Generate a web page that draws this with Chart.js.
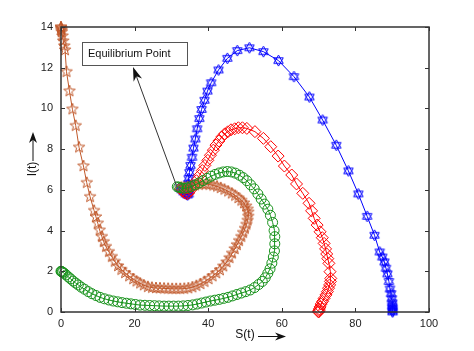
<!DOCTYPE html>
<html>
<head>
<meta charset="utf-8">
<script src="https://cdn.jsdelivr.net/npm/chart.js@4.4.1/dist/chart.umd.min.js"></script>
<style>
  html, body { margin: 0; padding: 0; background: #fff; }
  #wrap { width: 474px; height: 351px; }
</style>
</head>
<body>
<div id="wrap"><canvas id="phase"></canvas></div>
<script>
// Phase trajectories S(t) vs I(t)
const blueS = [90.1,90.1,90.1,90.1,90.0,90.0,89.9,89.7,89.4,89.1,
  88.7,88.3,87.9,87.3,86.6,85.2,83.2,80.8,78.1,74.8,
  71.1,67.5,63.3,59.1,55.0,51.2,47.9,45.2,42.8,40.8,
  39.8,39.0,38.2,37.6,37.0,36.5,36.0,35.6,35.2,34.9,
  34.7,34.6,34.6,34.7,34.7,34.4,33.9,33.3,32.8,32.4];
const blueI = [0.0,0.05,0.12,0.2,0.3,0.45,0.65,0.9,1.13,1.5,
  1.87,2.15,2.46,2.7,2.95,3.77,4.7,5.8,6.93,8.19,
  9.43,10.56,11.56,12.35,12.79,12.98,12.84,12.46,11.89,11.26,
  10.85,10.4,9.95,9.5,9.0,8.5,8.05,7.6,7.2,6.85,
  6.55,6.3,6.1,5.95,5.8,5.75,5.8,5.9,6.0,6.1];

const redS = [70.0,70.0,70.1,70.2,70.4,70.7,71.1,71.5,72.0,72.4,
  72.7,73.0,73.2,73.3,73.1,72.8,72.5,72.2,71.9,71.5,
  71.0,70.4,69.6,68.8,68.1,67.4,65.7,64.0,62.7,60.7,
  59.0,57.0,55.0,52.7,50.5,49.3,48.2,47.2,46.2,45.3,
  44.5,43.7,42.9,42.1,41.4,40.6,39.9,39.1,38.4,37.6,
  36.8,36.0,35.3,34.7,34.2,33.6,33.0,32.5];
const redI = [0.0,0.03,0.08,0.15,0.25,0.39,0.52,0.67,0.84,1.0,
  1.17,1.33,1.5,1.65,1.98,2.39,2.62,2.85,3.1,3.37,
  3.65,3.94,4.27,4.6,4.97,5.34,5.83,6.29,6.73,7.17,
  7.66,8.12,8.53,8.86,9.02,9.05,9.05,9.0,8.95,8.85,
  8.75,8.6,8.4,8.2,7.95,7.7,7.45,7.2,6.95,6.7,
  6.45,6.2,6.0,5.85,5.8,5.85,5.95,6.05];

const greenS = [0.0,0.1,0.3,0.5,0.9,1.4,2.0,2.6,3.3,4.0,
  4.7,5.5,6.4,7.4,8.4,9.5,10.6,11.8,13.0,14.2,
  15.4,16.6,17.8,19.0,20.2,21.5,22.8,24.1,25.4,26.7,
  28.0,29.3,30.6,31.9,33.2,34.5,35.8,37.0,38.2,39.4,
  40.6,41.8,43.0,44.2,45.4,46.6,47.8,49.0,50.2,51.4,
  52.6,53.7,54.7,55.5,56.2,56.8,57.3,57.7,58.0,58.1,
  58.1,57.9,57.5,56.9,56.2,55.3,54.4,53.5,52.5,51.5,
  50.5,49.5,48.5,47.4,46.3,45.2,44.1,43.0,41.9,40.8,
  39.7,38.6,37.5,36.4,35.3,34.3,33.4,32.6,32.0,31.6];
const greenI = [2.0,1.99,1.97,1.95,1.9,1.82,1.72,1.63,1.52,1.42,
  1.33,1.22,1.12,1.0,0.9,0.81,0.72,0.65,0.59,0.54,
  0.5,0.46,0.43,0.4,0.37,0.34,0.33,0.32,0.31,0.3,
  0.29,0.29,0.29,0.29,0.3,0.32,0.35,0.39,0.44,0.49,
  0.54,0.58,0.62,0.67,0.72,0.79,0.86,0.93,1.0,1.08,
  1.2,1.35,1.5,1.68,1.9,2.12,2.4,2.7,3.0,3.35,
  3.7,4.0,4.4,4.75,5.05,5.3,5.55,5.8,6.05,6.25,
  6.45,6.6,6.72,6.82,6.88,6.9,6.88,6.83,6.76,6.67,
  6.56,6.45,6.34,6.24,6.16,6.1,6.08,6.1,6.13,6.15];

const brownS = [0.0,0.0,0.05,0.1,0.15,0.2,0.4,0.6,0.9,1.1,
  1.5,2.3,3.1,4.0,4.9,6.1,7.0,7.9,9.0,9.5,
  10.0,10.5,11.1,11.6,12.2,13.0,13.8,14.6,15.5,16.4,
  17.4,18.5,19.6,20.5,21.5,22.5,23.6,24.7,25.8,26.9,
  28.0,29.1,30.2,31.3,32.4,33.5,34.6,35.7,36.8,37.9,
  39.0,40.1,41.2,42.2,43.2,44.1,45.0,45.8,46.5,47.2,
  47.8,48.4,49.0,49.5,50.0,50.4,50.7,50.9,50.9,50.7,
  50.3,49.7,49.0,48.2,47.3,46.4,45.4,44.4,43.4,42.4,
  41.4,40.4,39.4,38.4,37.4,36.4,35.4,34.4,33.5,32.7];
const brownI = [14.0,13.97,13.93,13.88,13.82,13.75,13.56,13.31,13.07,12.87,
  11.8,10.85,9.96,9.15,8.09,7.17,6.35,5.66,4.98,4.67,
  4.36,4.02,3.7,3.45,3.21,2.96,2.72,2.48,2.26,2.08,
  1.92,1.76,1.62,1.51,1.41,1.32,1.24,1.2,1.18,1.17,
  1.16,1.15,1.14,1.14,1.14,1.15,1.17,1.22,1.29,1.38,
  1.49,1.62,1.76,1.91,2.06,2.25,2.45,2.66,2.88,3.1,
  3.3,3.5,3.7,3.9,4.1,4.3,4.5,4.7,4.9,5.05,
  5.2,5.35,5.48,5.6,5.72,5.83,5.93,6.02,6.1,6.17,
  6.22,6.26,6.28,6.28,6.26,6.23,6.19,6.15,6.12,6.12];

const xTicks = [0, 20, 40, 60, 80, 100];
const yTicks = [0, 2, 4, 6, 8, 10, 12, 14];

const BLUE = '#0000ff', RED = '#ff0000', GREEN = '#16911a', BROWN = '#c0582a';
const FONT = 'Liberation Sans, Arial, Helvetica, sans-serif';

const pts = (xs, ys) => xs.map((x, i) => ({ x, y: ys[i] }));

// MATLAB-like open star markers drawn on small canvases
function starMarker(n, rOut, rIn, color) {
  const size = Math.ceil(rOut * 2 + 4);
  const c = document.createElement('canvas');
  c.width = c.height = size;
  const g = c.getContext('2d');
  g.translate(size / 2, size / 2);
  g.beginPath();
  for (let k = 0; k < n * 2; k++) {
    const r = k % 2 ? rIn : rOut;
    const a = -Math.PI / 2 + k * Math.PI / n;
    g.lineTo(r * Math.cos(a), r * Math.sin(a));
  }
  g.closePath();
  g.strokeStyle = color;
  g.lineWidth = 1;
  g.stroke();
  return c;
}

function hexagramMarker(r, color) {
  const size = Math.ceil(r * 2 + 4);
  const c = document.createElement('canvas');
  c.width = c.height = size;
  const g = c.getContext('2d');
  g.translate(size / 2, size / 2);
  g.strokeStyle = color;
  g.lineWidth = 1;
  [-Math.PI / 2, Math.PI / 2].forEach(a0 => {
    g.beginPath();
    for (let k = 0; k < 3; k++) {
      const a = a0 + k * 2 * Math.PI / 3;
      g.lineTo(r * Math.cos(a), r * Math.sin(a));
    }
    g.closePath();
    g.stroke();
  });
  return c;
}

function arrow(ctx, x1, y1, x2, y2, len, half) {
  const a = Math.atan2(y2 - y1, x2 - x1);
  ctx.beginPath();
  ctx.moveTo(x1, y1);
  ctx.lineTo(x2 - Math.cos(a) * len * 0.7, y2 - Math.sin(a) * len * 0.7);
  ctx.stroke();
  ctx.beginPath();
  ctx.moveTo(x2, y2);
  ctx.lineTo(x2 - len * Math.cos(a) + half * Math.sin(a), y2 - len * Math.sin(a) - half * Math.cos(a));
  ctx.lineTo(x2 - len * 0.7 * Math.cos(a), y2 - len * 0.7 * Math.sin(a));
  ctx.lineTo(x2 - len * Math.cos(a) - half * Math.sin(a), y2 - len * Math.sin(a) + half * Math.cos(a));
  ctx.closePath();
  ctx.fill();
}

// box, inward ticks, axis labels and the annotation
const decorations = {
  id: 'decorations',
  afterDraw(chart) {
    const { ctx, chartArea: a, scales: { x, y } } = chart;
    ctx.save();
    ctx.strokeStyle = '#333';
    ctx.lineWidth = 1.5;
    ctx.strokeRect(a.left, a.top, a.right - a.left, a.bottom - a.top);
    ctx.lineWidth = 1;
    ctx.beginPath();
    xTicks.forEach(v => {
      const px = Math.round(x.getPixelForValue(v)) + 0.5;
      ctx.moveTo(px, a.bottom); ctx.lineTo(px, a.bottom - 4);
      ctx.moveTo(px, a.top); ctx.lineTo(px, a.top + 4);
    });
    yTicks.forEach(v => {
      const py = Math.round(y.getPixelForValue(v)) + 0.5;
      ctx.moveTo(a.left, py); ctx.lineTo(a.left + 4, py);
      ctx.moveTo(a.right, py); ctx.lineTo(a.right - 4, py);
    });
    ctx.stroke();

    // axis labels with arrows
    ctx.fillStyle = '#111';
    ctx.strokeStyle = '#111';
    ctx.font = '12px ' + FONT;
    ctx.textAlign = 'center';
    ctx.textBaseline = 'middle';
    ctx.fillText('S(t)', 245, 335);
    ctx.lineWidth = 1;
    arrow(ctx, 258, 336.5, 286, 336.5, 11, 4);
    ctx.save();
    ctx.translate(33, 169);
    ctx.rotate(-Math.PI / 2);
    ctx.fillText('I(t)', 0, 0);
    ctx.restore();
    arrow(ctx, 33, 161, 33, 132, 11, 4);

    // annotation box and arrow pointing at it from the equilibrium
    const ex = x.getPixelForValue(31.3), ey = y.getPixelForValue(6.25);
    ctx.strokeStyle = '#333';
    ctx.fillStyle = '#111';
    arrow(ctx, ex, ey, 133, 67, 14, 4.5);
    ctx.fillStyle = '#fff';
    ctx.fillRect(82, 42, 105, 23);
    ctx.strokeStyle = '#555';
    ctx.lineWidth = 1;
    ctx.strokeRect(82.5, 42.5, 105, 23);
    ctx.fillStyle = '#111';
    ctx.font = '11px ' + FONT;
    ctx.textAlign = 'left';
    ctx.fillText('Equilibrium Point', 88, 54);
    ctx.restore();
  }
};

const common = { showLine: true, borderWidth: 1, tension: 0, pointBorderWidth: 1, pointBackgroundColor: 'rgba(0,0,0,0)', clip: false };

new Chart(document.getElementById('phase'), {
  type: 'scatter',
  data: {
    datasets: [
      { ...common, data: pts(greenS, greenI), borderColor: GREEN, pointBorderColor: GREEN, pointStyle: 'circle', pointRadius: 5 },
      { ...common, data: pts(brownS, brownI), borderColor: BROWN, pointBorderColor: BROWN, pointStyle: starMarker(5, 6, 2.5, BROWN), pointRadius: 6 },
      { ...common, data: pts(redS, redI), borderColor: RED, pointBorderColor: RED, pointStyle: 'rectRot', pointRadius: 6 },
      { ...common, data: pts(blueS, blueI), borderColor: BLUE, pointBorderColor: BLUE, pointStyle: hexagramMarker(5.5, BLUE), pointRadius: 6 },
    ],
  },
  options: {
    responsive: true,
    maintainAspectRatio: false,
    animation: false,
    layout: { padding: { left: 0, right: 45, top: 27, bottom: 0 } },
    plugins: { legend: { display: false }, tooltip: { enabled: false } },
    scales: {
      x: {
        type: 'linear', min: 0, max: 100,
        afterBuildTicks: s => { s.ticks = xTicks.map(v => ({ value: v })); },
        afterFit: s => { s.height = 39; },
        grid: { display: false, drawTicks: false },
        border: { display: false },
        ticks: { padding: 5, color: '#222', font: { family: FONT, size: 11 }, maxRotation: 0 },
      },
      y: {
        type: 'linear', min: 0, max: 14,
        afterBuildTicks: s => { s.ticks = yTicks.map(v => ({ value: v })); },
        afterFit: s => { s.width = 61; },
        grid: { display: false, drawTicks: false },
        border: { display: false },
        ticks: { padding: 8, color: '#222', font: { family: FONT, size: 11 } },
      },
    },
  },
  plugins: [decorations],
});
</script>
</body>
</html>
